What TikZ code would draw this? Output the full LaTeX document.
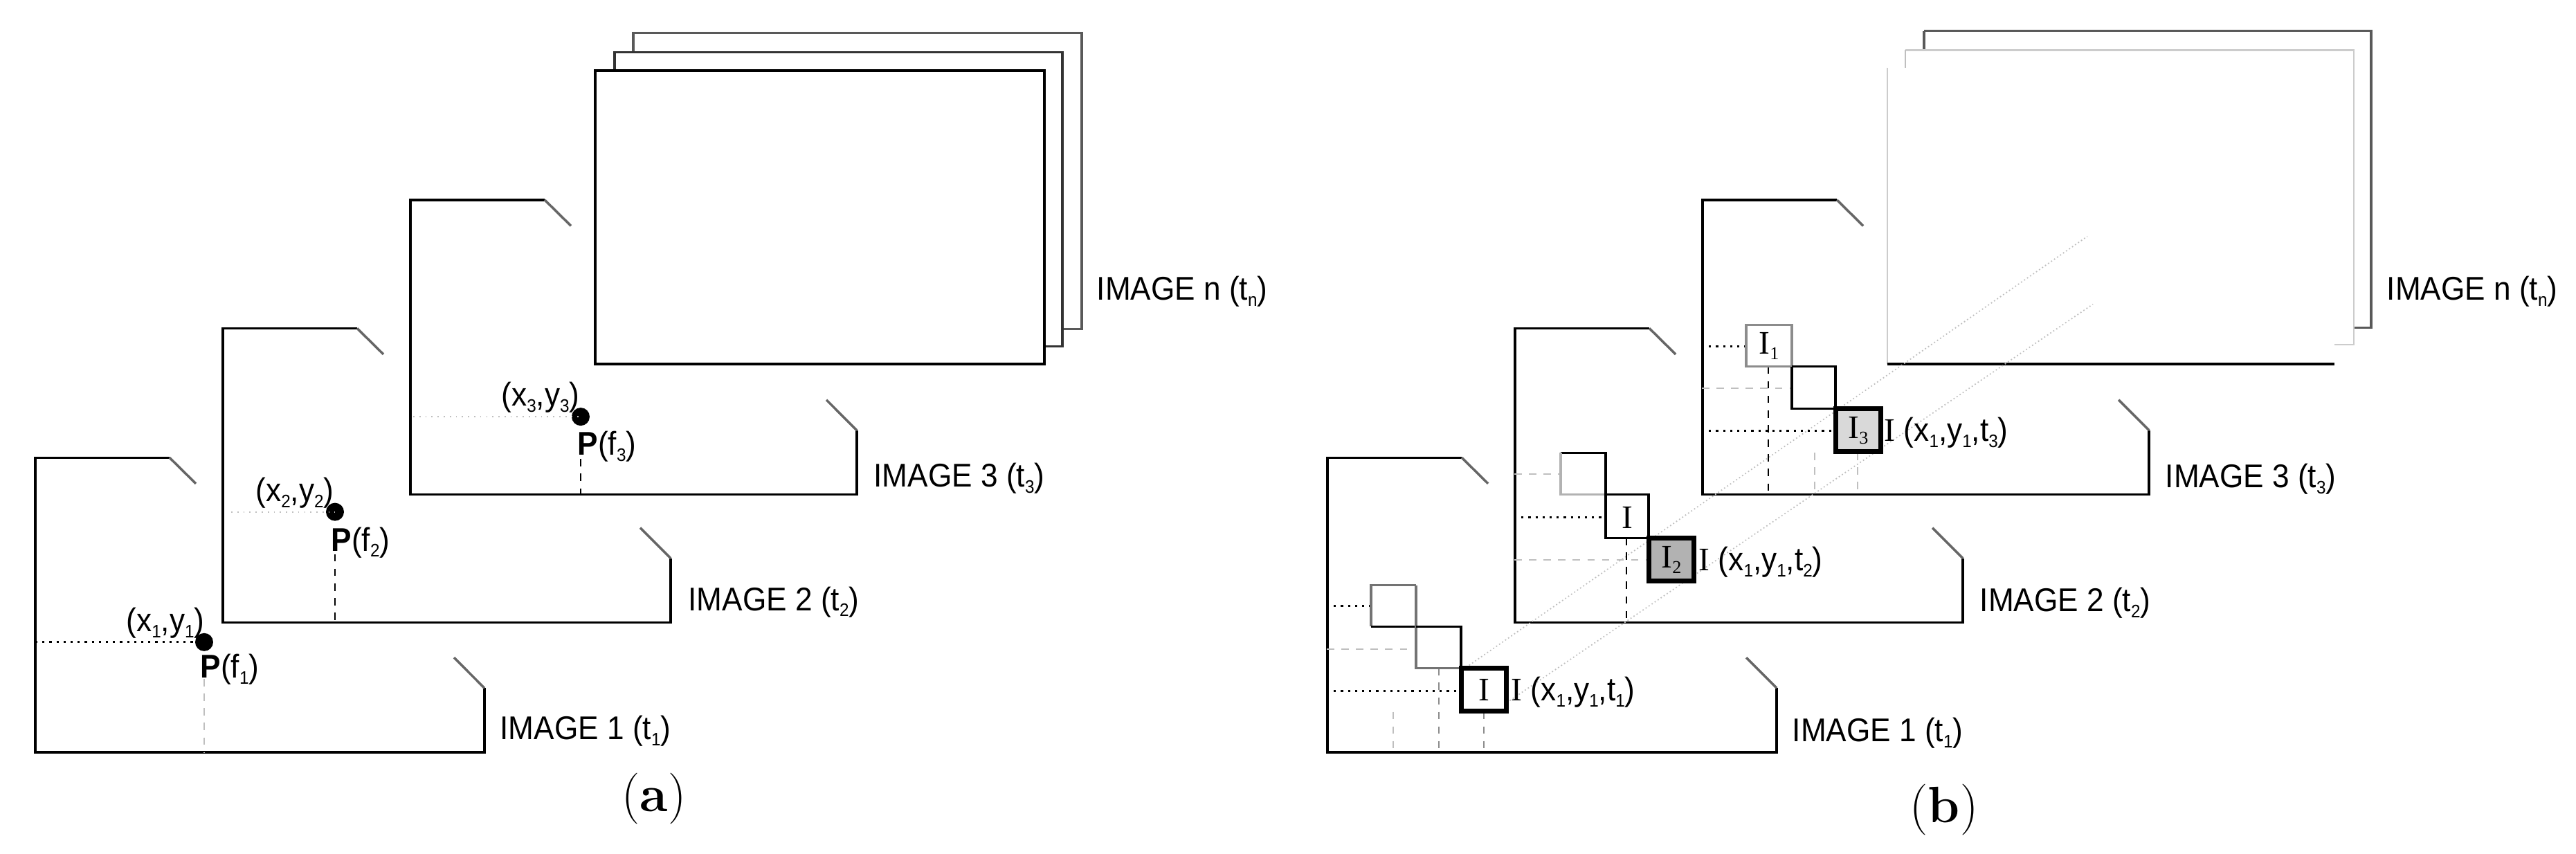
\documentclass[tikz,border=0pt]{standalone}
\usepackage{fontspec}
\newfontfamily\lab[FakeStretch=0.93]{Liberation Sans}
\newfontfamily\serlab{Liberation Serif}
\newcommand\sbs[1]{\raisebox{-0.35ex}{\scalebox{0.55}{#1}}}
\newcommand\frm[4]{%
  \draw[frameline] (#1+194,#2) -- (#1,#2) -- (#1,#4) -- (#3,#4) -- (#3,#4-141);
  \draw[cornerline] (#1+194,#2) -- (#1+232,#2+57);
  \draw[cornerline] (#3,#4-141) -- (#3-44,#4-208);}
\tikzset{
  frameline/.style={line width=1pt, line join=miter},
  cornerline/.style={line width=1pt, black!60},
  lbl/.style={font=\lab\fontsize{13.5}{15}\selectfont, inner sep=0pt, anchor=west},
  serf/.style={font=\serlab\fontsize{13.5}{15}\selectfont},
  blk/.style={dotted, line width=0.9pt},
  faint/.style={dashed, line width=0.5pt, black!25},
  gdash/.style={dashed, line width=0.6pt, black!45},
  bdash/.style={dashed, line width=0.8pt},
  pix/.style={line width=0.9pt},
  thickpix/.style={line width=2pt},
  diag/.style={line width=0.5pt, black!25, densely dotted},
  pbox/.style={draw, thickpix, minimum width=0.65cm, minimum height=0.62cm, inner sep=0pt, serf},
  capt/.style={font=\fontsize{21}{24}\selectfont}
}
\begin{document}
\begin{tikzpicture}[x=0.01cm,y=-0.00658cm]
\useasboundingbox (0,0) rectangle (3722,1874);
% ================= panel (a)
\draw[line width=0.9pt, black!65, fill=white] (915,72) rectangle (1563,723);
\draw[line width=0.9pt, black!80, fill=white] (888,115) rectangle (1535,761);
\draw[line width=1pt, fill=white] (860,155) rectangle (1509,799);
\node[lbl] (ln) at (1584,640) {IMAGE n (t\sbs{n})};
\frm{593}{439}{1238}{1086}
\node[lbl] (l3) at (1262,1050) {IMAGE 3 (t\sbs{3})};
\frm{322}{721}{969}{1367}
\node[lbl] (l2) at (994,1322) {IMAGE 2 (t\sbs{2})};
\frm{51}{1005}{700}{1652}
\node[lbl] (l1) at (722,1605) {IMAGE 1 (t\sbs{1})};
% points
\fill (295,1410) circle (0.13cm) coordinate (p1);
\fill (484,1124) circle (0.13cm) coordinate (p2);
\fill (839,915) circle (0.13cm) coordinate (p3);
\coordinate (h1) at (51,1410); \coordinate (h2) at (334,1124); \coordinate (h3) at (597,915);
\draw[blk] (h1) -- (p1);
\draw[faint,dotted] (h2) -- (p2);
\draw[faint,dotted] (h3) -- (p3);
\draw[faint] (295,1491) -- (295,1652);
\draw[bdash] (484,1217) -- (484,1367);
\draw[bdash] (839,1008) -- (839,1086);
\node[lbl,anchor=center] (c1) at (239,1368) {(x\sbs{1},y\sbs{1})};
\node[lbl,anchor=center] (c2) at (426,1083) {(x\sbs{2},y\sbs{2})};
\node[lbl,anchor=center] (c3) at (781,873) {(x\sbs{3},y\sbs{3})};
\node[lbl,anchor=center] (f1) at (332,1470) {\textbf{P}(f\sbs{1})};
\node[lbl,anchor=center] (f2) at (521,1191) {\textbf{P}(f\sbs{2})};
\node[lbl,anchor=center] (f3) at (877,981) {\textbf{P}(f\sbs{3})};
\node[capt] (capa) at (945,1754) {(\textbf{a})};
% ================= panel (b)
\draw[line width=0.9pt, black!65, fill=white] (2780,68) -- (3426,68) -- (3426,719) -- (3401,719);
\draw[line width=0.9pt, black!65] (2780,68) -- (2780,110);
\draw[line width=0.7pt, black!20, fill=white] (2753,110) -- (3401,110) -- (3401,757) -- (3373,757);
\draw[line width=0.7pt, black!25] (2753,110) -- (2753,149);
\fill[white] (2727,149) rectangle (3373,799);
\draw[line width=0.7pt, black!20] (2727,149) -- (2727,799);
\draw[line width=1pt] (2727,799) -- (3373,799);
\node[lbl] (lnb) at (3448,640) {IMAGE n (t\sbs{n})};
\begin{scope}[xshift=18.66cm]
\frm{593}{439}{1238}{1086}
\frm{322}{721}{969}{1367}
\frm{51}{1005}{700}{1652}
\end{scope}
\node[lbl] (l3b) at (3128,1052) {IMAGE 3 (t\sbs{3})};
\node[lbl] (l2b) at (2860,1324) {IMAGE 2 (t\sbs{2})};
\node[lbl] (l1b) at (2589,1610) {IMAGE 1 (t\sbs{1})};
% diagonals
\draw[diag] (2114,1470) -- (3016,519);
\draw[diag] (2177,1543) -- (3024,668);
% image 1 boxes
\draw[blk] (1917,1330) -- (1981,1330);
\draw[faint] (1917,1426) -- (2046,1426);
\draw[blk] (1917,1517) -- (2111,1517);
\draw[faint] (2013,1563) -- (2013,1658);
\draw[gdash] (2079,1467) -- (2079,1658);
\draw[gdash] (2144,1563) -- (2144,1658);
\draw[pix,black!55] (1981,1376) -- (1981,1285) -- (2046,1285);
\draw[pix] (1981,1376) -- (2046,1376);
\draw[pix,black!55] (2046,1285) -- (2046,1467) -- (2111,1467);
\draw[pix] (2046,1376) -- (2111,1376) -- (2111,1467);
\node[pbox, fill=white] (b1) at (2144,1515) {I};
\node[lbl] (t1) at (2183,1520) {{\serlab I} (x\sbs{1},y\sbs{1},t\sbs{1})};
% image 2 boxes
\draw[faint] (2188,1041) -- (2255,1041);
\draw[blk] (2188,1136) -- (2320,1136);
\draw[faint] (2188,1229) -- (2382,1229);
\draw[bdash] (2350,1181) -- (2350,1372);
\draw[pix] (2255,994) -- (2320,994) -- (2320,1086);
\draw[pix,black!30] (2255,994) -- (2255,1086) -- (2320,1086);
\draw[pix] (2320,1086) -- (2382,1086) -- (2382,1181) -- (2320,1181) -- cycle;
\node[serf] (i2s) at (2351,1136) {I};
\node[pbox, fill=black!30] (b2) at (2415,1229) {I\sbs{2}};
\node[lbl] (t2) at (2454,1235) {{\serlab I} (x\sbs{1},y\sbs{1},t\sbs{2})};
% image 3 boxes
\draw[blk] (2459,760) -- (2523,760);
\draw[faint] (2459,853) -- (2589,853);
\draw[blk] (2459,946) -- (2652,946);
\draw[bdash] (2555,805) -- (2555,1086);
\draw[faint] (2622,994) -- (2622,1086);
\draw[faint] (2684,994) -- (2684,1086);
\draw[pix,black!45] (2523,713) rectangle (2589,805);
\node[serf] (i1s) at (2556,760) {I\sbs{1}};
\draw[pix] (2589,805) -- (2652,805) -- (2652,897);
\draw[pix] (2589,805) -- (2589,897) -- (2652,897);
\node[pbox, fill=black!15] (b3) at (2685,945) {I\sbs{3}};
\node[lbl] (t3) at (2722,950) {{\serlab I} (x\sbs{1},y\sbs{1},t\sbs{3})};
\node[capt] (capb) at (2809,1778) {(\textbf{b})};
\end{tikzpicture}
\end{document}
